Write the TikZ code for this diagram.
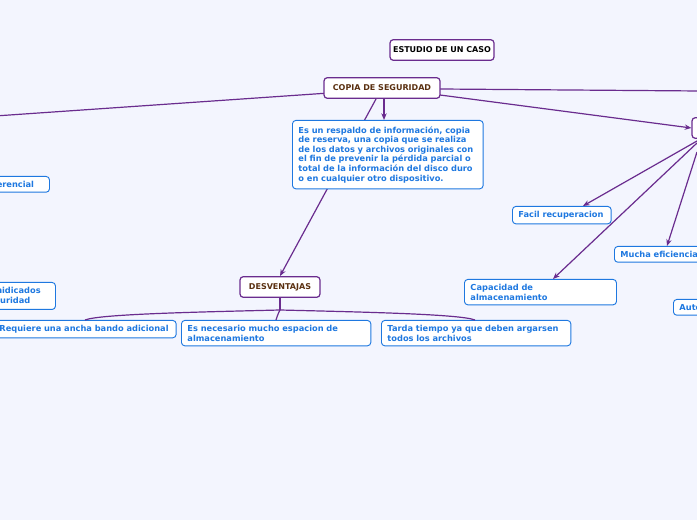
\documentclass[tikz,border=0pt]{standalone}
\usepackage{fontspec}
\setmainfont{DejaVu Sans}
\usetikzlibrary{arrows.meta}
\hyphenpenalty=10000
\exhyphenpenalty=10000
\definecolor{bg}{HTML}{F3F5FE}
\definecolor{pur}{HTML}{6A2C8E}
\definecolor{blu}{HTML}{1E78E0}
\definecolor{brn}{HTML}{5A3010}
\begin{document}
\begin{tikzpicture}[x=0.75pt,y=-0.75pt,
  main/.style={draw=pur,line width=0.9pt,rounded corners=2.5pt,fill=white,font=\fontsize{6}{7}\selectfont\bfseries,text=brn,inner sep=0pt,minimum height=15.5pt,align=center},
  leaf/.style={draw=blu,line width=0.7pt,rounded corners=2.5pt,fill=white,font=\fontsize{6.2}{7.2}\selectfont\bfseries,text=blu,inner xsep=4.5pt,inner ysep=3.5pt,align=left,text width=#1,anchor=north west},
  con/.style={draw=pur,line width=0.9pt},
  arr/.style={con,-{Stealth[length=5pt,width=4pt]}}]
\useasboundingbox (0,0) rectangle (697,520);
\fill[bg] (0,0) rectangle (697,520);
\clip (0,0) rectangle (697,520);
\coordinate (lfar) at (-5,116);
\coordinate (rfar) at (700,91);
\coordinate (hub) at (280,310);
\draw[con] (329,93) -- (lfar);
\draw[con] (440,89) -- (rfar);
\node[main,minimum width=78pt,text=black] (est) at (442,50) {ESTUDIO DE UN CASO};
\node[main,minimum width=87pt] (copia) at (382,88) {COPIA DE SEGURIDAD};
\node[main,minimum width=60pt] (desv) at (280,287) {DESVENTAJAS};
\node[draw=pur,line width=0.9pt,rounded corners=2.5pt,fill=white,minimum width=30pt,minimum height=15.5pt] (ven) at (712,128) {};
\coordinate (c1) at (376,99);
\draw[arr] (c1) -- (desv.north);
\node[leaf=134pt,inner ysep=4.5pt] (desc) at (292,120) {Es un respaldo de información, copia de reserva, una copia que se realiza de los datos y archivos originales con el fin de prevenir la pérdida parcial o total de la información del disco duro o en cualquier otro dispositivo.};
\coordinate (c2) at (384,99);
\coordinate (c3) at (384,120);
\draw[arr] (c2) -- (c3);
\draw[arr] (440,95) -- (ven.west);
\node[leaf=128pt] (req) at (-7,320) {Requiere una ancha bando adicional};
\node[leaf=133pt] (nec) at (181,320) {Es necesario mucho espacion de almacenamiento};
\node[leaf=133pt] (tar) at (381,320) {Tarda tiempo ya que deben argarsen todos los archivos};
\node[leaf=45pt] (dif) at (-23,176) {Diferencial};
\node[leaf=60pt] (mid) at (-37,282) {Usar midicados de seguridad};
\node[leaf=65pt] (fac) at (512,206) {Facil recuperacion};
\node[leaf=105pt] (cap) at (464,279) {Capacidad de almacenamiento};
\node[leaf=80pt] (muc) at (614,246) {Mucha eficiencia};
\node[leaf=60pt] (aut) at (673,299) {Automatico};
\draw[con] (desv.south) -- (hub);
\draw[con] (hub) .. controls (200,312) and (100,314) .. (85,320);
\draw[con] (hub) .. controls (278,314) .. (276,320);
\draw[con] (hub) .. controls (360,312) and (460,314) .. (475,320);
\draw[arr] (697,141) -- (583,206);
\draw[arr] (697,143) -- (553,279);
\draw[arr] (697,152) -- (667,246);
\end{tikzpicture}
\end{document}
